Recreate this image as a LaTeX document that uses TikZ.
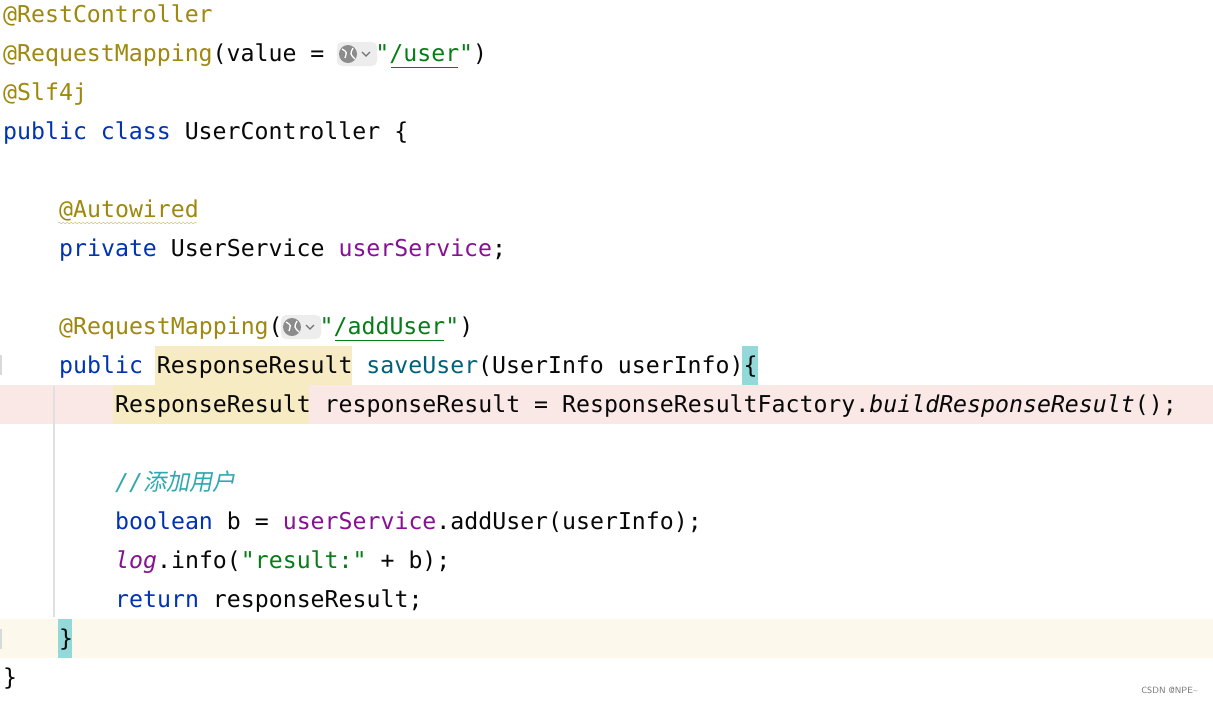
\documentclass[tikz,border=0pt]{standalone}
\usepackage{fontspec}
\usetikzlibrary{decorations.pathmorphing}
\setmonofont{DejaVu Sans Mono}
\newfontfamily\cjk{Noto Sans CJK SC}[FakeSlant=0.2]
\definecolor{ann}{HTML}{9E880D}
\definecolor{kw}{HTML}{0033B3}
\definecolor{fld}{HTML}{871094}
\definecolor{str}{HTML}{067D17}
\definecolor{cmt}{HTML}{2FA8B0}
\definecolor{fn}{HTML}{00627A}
\definecolor{txt}{HTML}{080808}
\definecolor{pinkbg}{HTML}{FAE8E6}
\definecolor{yelbg}{HTML}{FCF9EC}
\definecolor{rrbg}{HTML}{F6EBC2}
\definecolor{brbg}{HTML}{93D9D9}
\begin{document}
\begin{tikzpicture}[x=1pt,y=-1pt,
  code/.style={anchor=base west,inner sep=0pt,font=\ttfamily\fontsize{23.2}{26}\selectfont,text=txt},
  globe/.style={fill=black!7,rounded corners=5pt,draw=none}]
\fill[white] (0,0) rectangle (1213,705);
\useasboundingbox (0,0) rectangle (1213,705);
% backgrounds
\fill[pinkbg] (0,385) rectangle (1213,424);
\fill[yelbg] (0,619) rectangle (1213,658);
\fill[rrbg] (155,346) rectangle (352,385);
\fill[rrbg] (113,385) rectangle (309,424);
\fill[brbg] (742,346) rectangle (758,385);
\fill[brbg] (58,619) rectangle (72,658);
\draw[black!12,line width=1.5pt] (54,386) -- (54,617);
\draw[black!15,line width=1.5pt] (1,355) -- (1,375);
\draw[black!15,line width=1.5pt] (1,629) -- (1,649);
% globe icons
\fill[globe] (337,42) rectangle (377,66);
\fill[black!45] (348,54) circle (9);
\draw[white,line width=1.3pt] (342,49) .. controls (347,52) .. (345,58);
\draw[white,line width=1.3pt] (353,48) .. controls (350,54) .. (355,59);
\draw[black!55,line width=1.2pt] (362,52) -- (366,56) -- (370,52);
\fill[globe] (281,315) rectangle (321,339);
\fill[black!45] (292,327) circle (9);
\draw[white,line width=1.3pt] (286,322) .. controls (291,325) .. (289,331);
\draw[white,line width=1.3pt] (297,321) .. controls (294,327) .. (299,332);
\draw[black!55,line width=1.2pt] (306,325) -- (310,329) -- (314,325);
\draw[str,line width=1pt] (391,67) -- (458,67);
\draw[str,line width=1pt] (335,340) -- (444,340);
\draw[ann!60,decorate,decoration={snake,amplitude=0.8pt,segment length=4pt}] (58,223) -- (197,223);
% code
\node[code] (l1) at (3,22) {\color{ann}@RestController};
\node[code] (l2) at (3,61) {\color{ann}@RequestMapping\color{txt}(value = \hspace{37pt}\color{str}"/user"\color{txt})};
\node[code] (l3) at (3,100) {\color{ann}@Slf4j};
\node[code] (l4) at (3,139) {\color{kw}public class \color{txt}UserController \{};
\node[code] (l6) at (59,217) {\color{ann}@Autowired};
\node[code] (l7) at (59,256) {\color{kw}private \color{txt}UserService \color{fld}userService\color{txt};};
\node[code] (l9) at (59,334) {\color{ann}@RequestMapping\color{txt}(\hspace{37pt}\color{str}"/addUser"\color{txt})};
\node[code] (l10) at (59,373) {\color{kw}public \color{txt}ResponseResult \color{fn}saveUser\color{txt}(UserInfo userInfo)\{};
\node[code] (l11) at (115,412) {ResponseResult responseResult = ResponseResultFactory.\textit{buildResponseResult}();};
\node[code] (l13) at (115,490) {\color{cmt}\textit{//}{\cjk 添加用户}};
\node[code] (l14) at (115,529) {\color{kw}boolean \color{txt}b = \color{fld}userService\color{txt}.addUser(userInfo);};
\node[code] (l15) at (115,568) {\color{fld}\textit{log}\color{txt}.info(\color{str}"result:" \color{txt}+ b);};
\node[code] (l16) at (115,607) {\color{kw}return \color{txt}responseResult;};
\node[code] (l17) at (59,646) {\}};
\node[code] (l18) at (3,685) {\}};
\node[anchor=east,inner sep=0pt,font=\sffamily\fontsize{9}{10}\selectfont,text=black!55] (wm) at (1198,690) {CSDN @NPE\textasciitilde};
\end{tikzpicture}
\end{document}
